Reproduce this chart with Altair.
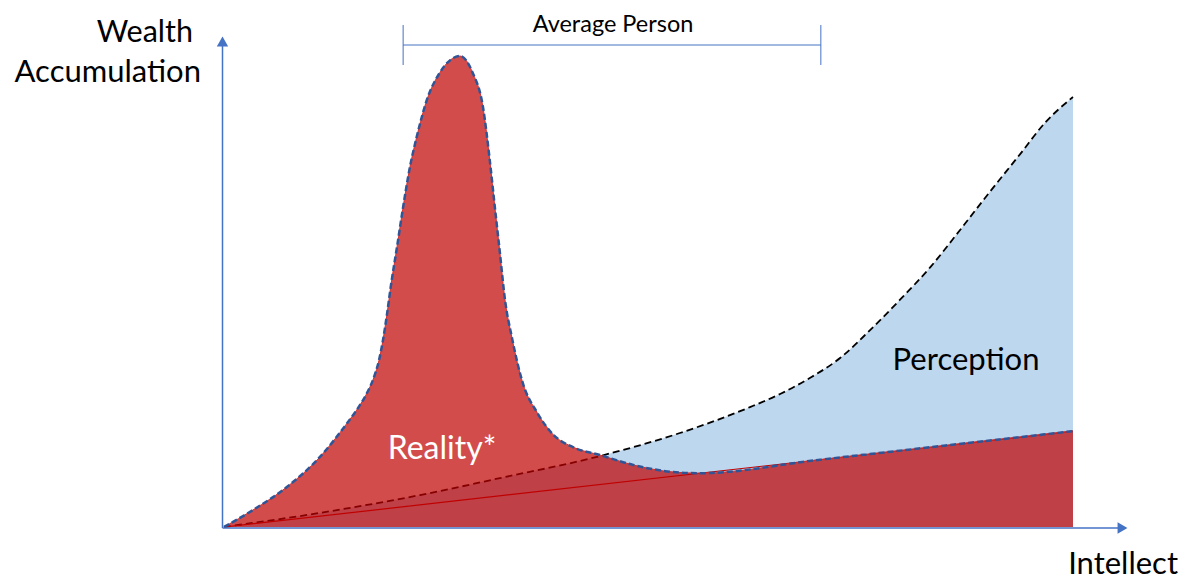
import altair as alt
import pandas as pd

# ---- data (intellect 0-100, wealth 0-100) ----
reality_x = [0, 3.4, 7.4, 11.3, 14.5, 15.78, 16.84, 17.67, 18.26, 18.73, 19.2, 19.67, 20.38, 21.1, 21.9,
             22.7, 23.9, 25.4, 27.8, 29.3, 30.5, 31.3, 31.9, 32.5, 33.1, 33.9, 35.2, 36.9, 38.8, 41.1,
             44.3, 48.2, 52.9, 56.1, 70.0, 85.0, 100]
reality_y = [0, 3.6, 8.5, 14.9, 22.1, 25.3, 28.5, 31.9, 35.5, 39.8, 45.3, 51.5, 59.6, 68.1, 76.6,
             83.0, 90.9, 96.6, 100.2, 96.6, 89.4, 78.1, 68.1, 58.3, 48.3, 40.4, 30.6, 24.3, 19.6, 17.0,
             15.3, 13.2, 11.7, 11.45, 14.28, 17.34, 20.4]
perception_x = [0, 11.3, 23.1, 32.5, 44.3, 53.7, 61.95, 65.5, 69.0, 72.6, 76.1, 79.6, 83.2, 86.7,
                90.2, 93.8, 96.7, 100]
perception_y = [0, 3.0, 6.8, 10.4, 15.1, 20.0, 25.5, 28.3, 31.7, 36.0, 41.9, 48.3, 55.3, 63.2,
                71.3, 79.4, 86.0, 91.5]
trend_x = [0, 100]
trend_y = [0, 20.4]
average_range = [21.1, 70.3]
bracket_level = 102.55
bracket_tick = [98.3, 106.8]

reality = pd.DataFrame({"x": reality_x, "y": reality_y})
perception = pd.DataFrame({"x": perception_x, "y": perception_y})
trend = pd.DataFrame({"x": trend_x, "y": trend_y})
bracket_h = pd.DataFrame({"x": [average_range[0]], "x2": [average_range[1]], "y": [bracket_level]})
bracket_v = pd.DataFrame({"x": average_range, "y": [bracket_tick[0]] * 2, "y2": [bracket_tick[1]] * 2})
one = pd.DataFrame({"a": [0]})

XS = alt.Scale(domain=[0, 100], range=[224, 1073])
YS = alt.Scale(domain=[0, 100], range=[527, 57])
FONT = "Lato"
AX = "#4472C4"


def X(f="x"):
    return alt.X(f"{f}:Q", scale=XS, axis=None)


def Y(f="y"):
    return alt.Y(f"{f}:Q", scale=YS, axis=None)


perc_area = alt.Chart(perception).mark_area(interpolate="monotone", color="#BDD7EE", opacity=1).encode(x=X(), y=Y())
perc_line = alt.Chart(perception).mark_line(interpolate="monotone", color="black", strokeDash=[7, 4], strokeWidth=1.8).encode(x=X(), y=Y())
real_area = alt.Chart(reality).mark_area(interpolate="monotone", color="#C00000", opacity=0.7).encode(x=X(), y=Y())
trend_line = alt.Chart(trend).mark_line(color="#C00000", strokeWidth=1.2).encode(x=X(), y=Y())
real_edge = alt.Chart(reality).mark_line(interpolate="monotone", color="#D03030", strokeWidth=1).encode(x=X(), y=Y())
real_line = alt.Chart(reality).mark_line(interpolate="monotone", color="#2F5597", strokeDash=[6, 3], strokeWidth=2.5).encode(x=X(), y=Y())

br_h = alt.Chart(bracket_h).mark_rule(color=AX, strokeWidth=1).encode(x=X(), x2="x2:Q", y=Y())
br_v = alt.Chart(bracket_v).mark_rule(color=AX, strokeWidth=1).encode(x=X(), y=Y(), y2="y2:Q")

y_axis = alt.Chart(one).mark_rule(color=AX, strokeWidth=1.5).encode(x=alt.value(222.5), y=alt.value(45), y2=alt.value(528))
x_axis = alt.Chart(one).mark_rule(color=AX, strokeWidth=1.5).encode(x=alt.value(222.5), x2=alt.value(1118), y=alt.value(528))
y_arrow = alt.Chart(one).mark_point(shape="triangle-up", filled=True, size=130, color=AX, opacity=1).encode(x=alt.value(222.5), y=alt.value(41.5))
x_arrow = alt.Chart(one).mark_point(shape="triangle-right", filled=True, size=130, color=AX, opacity=1).encode(x=alt.value(1122.5), y=alt.value(528))


def label(text, x, y, size=28, color="black", align="center"):
    return alt.Chart(one).mark_text(text=text, font=FONT, fontSize=size, color=color, align=align, baseline="middle").encode(
        x=alt.value(x), y=alt.value(y))


texts = [
    label("Wealth", 193, 33, size=30.5, align="right"),
    label("Accumulation", 201, 73, size=31, align="right"),
    label("Intellect", 1178, 565, size=31, align="right"),
    label("Perception", 966, 361, size=31),
    label("Reality*", 442, 449, size=32, color="white"),
    label("Average Person", 613, 25, size=23.5),
]

chart = alt.layer(perc_area, perc_line, real_area, trend_line, real_edge, real_line, br_h, br_v,
                  y_axis, x_axis, y_arrow, x_arrow, *texts).properties(
    width=1200, height=588, padding=0, autosize="none", background="white"
).configure_view(stroke=None)

chart.save("out.html", embed_options={"renderer": "svg", "actions": False})
